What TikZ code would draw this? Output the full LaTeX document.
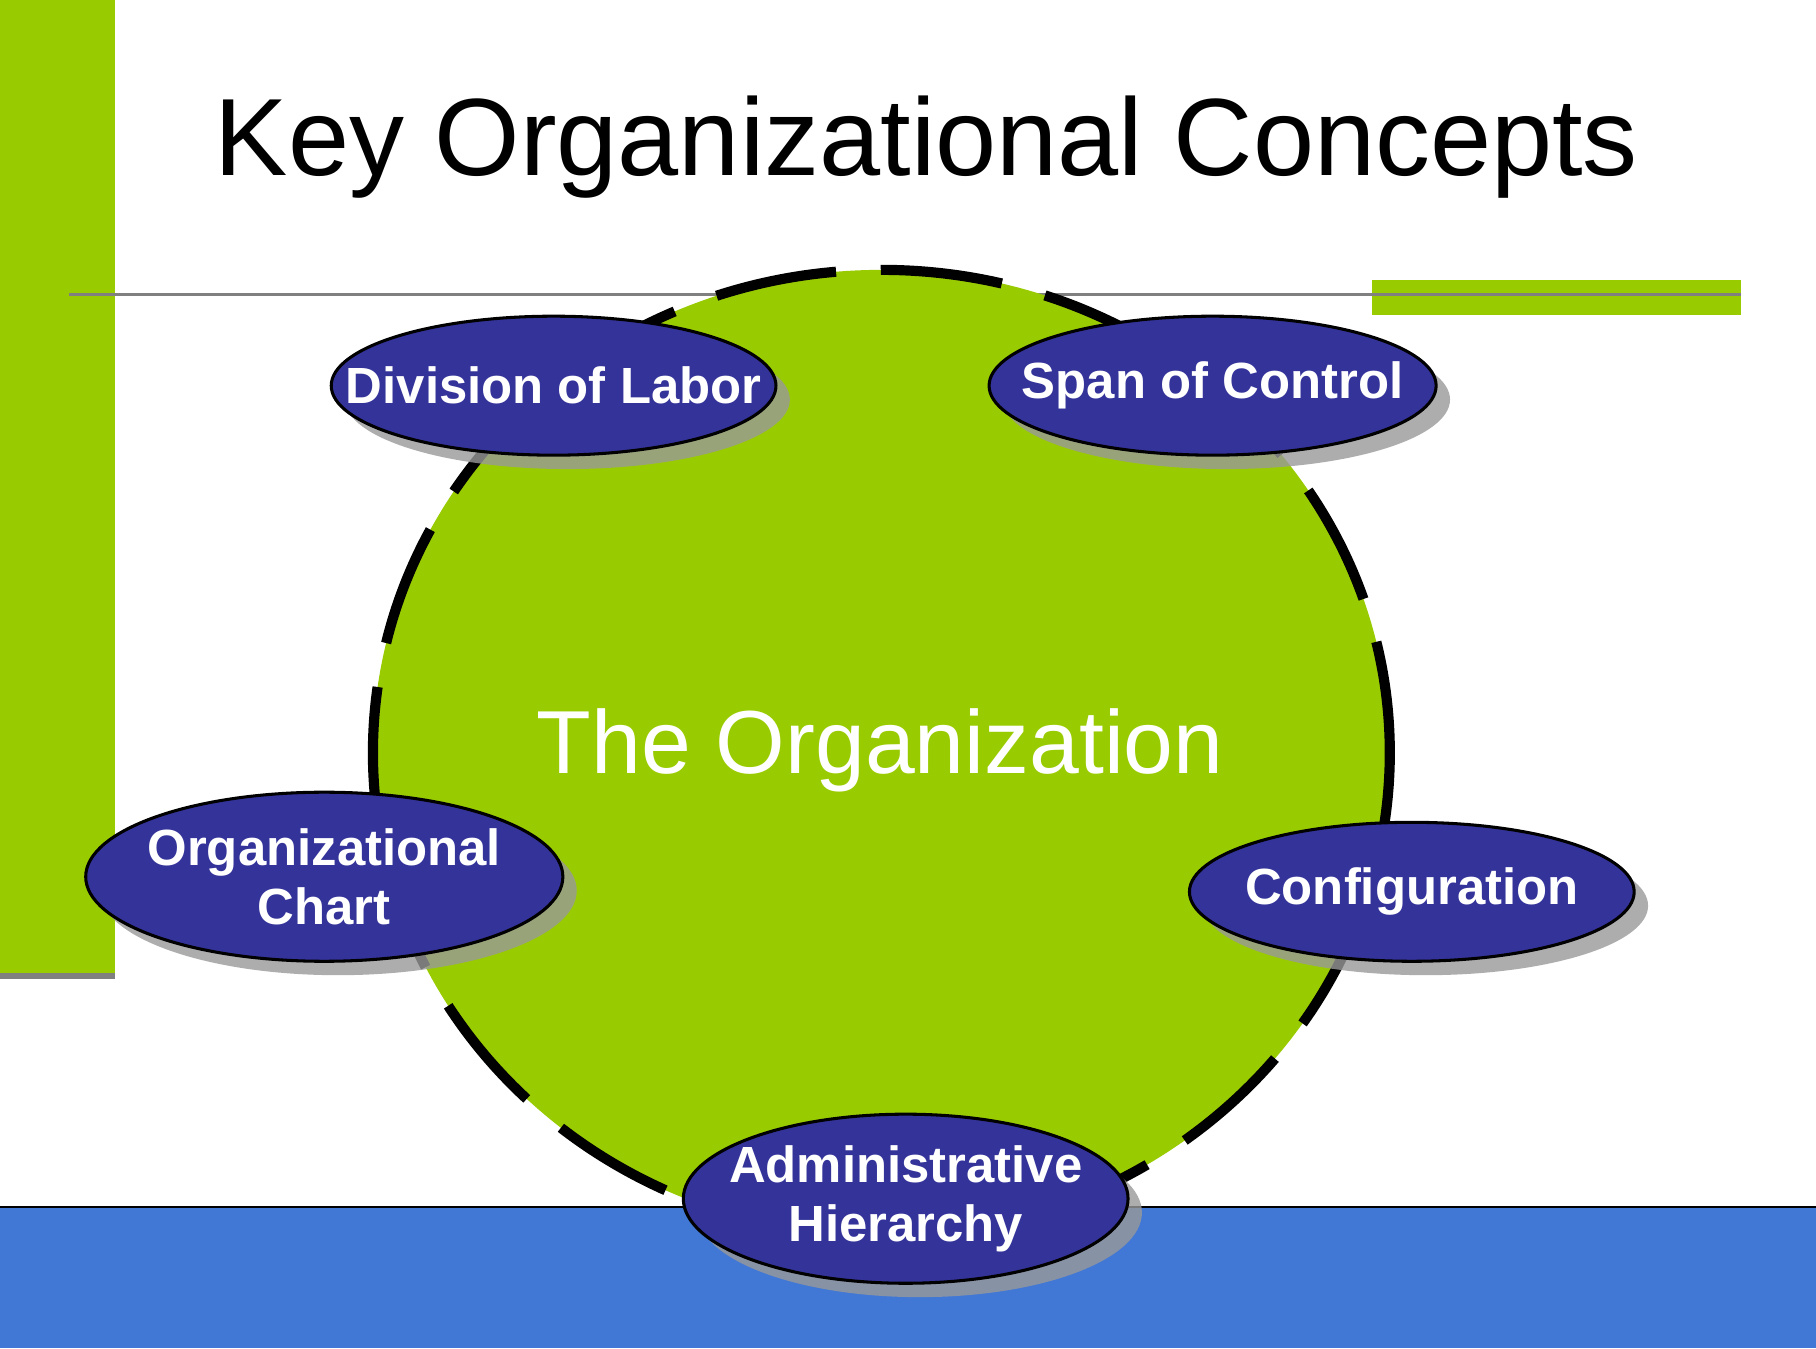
\documentclass[tikz,border=0pt]{standalone}
\usepackage{fontspec}
\setmainfont{Liberation Sans}
\definecolor{lgreen}{HTML}{99CC00}
\definecolor{navy}{HTML}{333399}
\definecolor{band}{HTML}{4177D5}
\tikzset{
 ctext/.style={text=white,font=\bfseries\fontsize{25}{29}\selectfont,align=center,inner sep=0pt},
 cshape/.style={draw=black,line width=1.5pt,fill=navy},
 cshadow/.style={fill=black!40,opacity=0.8},
}
\newcommand{\concept}[6]{% name, x, y, rx, ry, text
  \fill[cshadow] (#2+12,#3+12) ellipse[x radius=#4,y radius=#5];
  \draw[cshape] (#2,#3) ellipse[x radius=#4,y radius=#5];
  \node[ctext] (#1) at (#2,#3) {#6};
}
\begin{document}
\begin{tikzpicture}[x=0.02cm,y=-0.02cm]
\useasboundingbox (0,0) rectangle (1568,1164);
\fill[white] (0,0) rectangle (1568,1164);
\fill[lgreen] (0,0) rectangle (99,843);
\draw[gray,line width=3pt] (0,843) -- (99,843);
\fill[lgreen] (1185,242) rectangle (1503,272);
\draw[gray,line width=1.5pt] (60,254) -- (1503,254);
\node[font=\fontsize{54}{62}\selectfont] (title) at (800,127) {Key Organizational Concepts};
\fill[band] (0,1042) rectangle (1568,1164);
\draw[black,line width=0.8pt] (0,1042) -- (1568,1042);
\draw[fill=lgreen,draw=black,line width=5pt,dash pattern=on 60pt off 22pt] (761,650) ellipse[x radius=439,y radius=417];
\node[text=white,font=\fontsize{44}{52}\selectfont] (org) at (760,648) {The Organization};
\concept{dol}{478}{333}{192}{60}{Division of Labor}
\concept{soc}{1047}{333}{193}{60}{Span of Control}
\concept{oc}{280}{757}{206}{73}{Organizational\\Chart}
\concept{cf}{1219}{770}{192}{60}{Configuration}
\concept{ah}{782}{1035}{192}{73}{Administrative\\Hierarchy}
\end{tikzpicture}
\end{document}
